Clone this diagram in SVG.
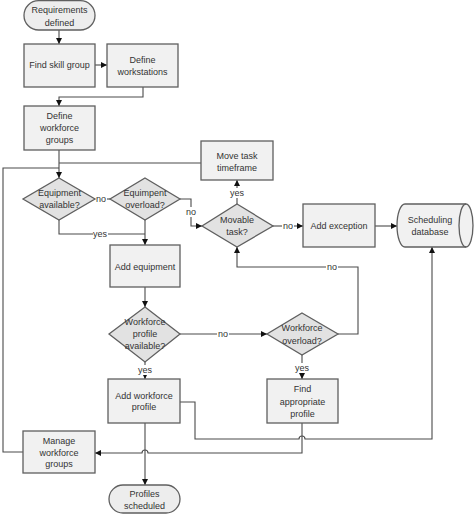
<svg xmlns="http://www.w3.org/2000/svg" width="474" height="517" viewBox="0 0 474 517">
<style>
.box{fill:#f1f1f1;stroke:#5f5f5f;stroke-width:1.3}
.dia{fill:#e2e2e2;stroke:#5f5f5f;stroke-width:1.3}
.pill{fill:#ededed;stroke:#5f5f5f;stroke-width:1.3}
text{font-family:"Liberation Sans",Arial,sans-serif;font-size:9px;fill:#333;text-anchor:middle}
.ln{fill:none;stroke:#4a4a4a;stroke-width:1.1}
.lb{fill:#fff}
</style>
<defs>
<marker id="ar" viewBox="0 0 10 10" refX="10" refY="5" markerWidth="6" markerHeight="6" orient="auto" markerUnits="userSpaceOnUse">
<path d="M0,0 L10,5 L0,10 Z" fill="#111"/>
</marker>
</defs>
<rect width="474" height="517" fill="#fff"/>
<g id="connectors">
<path class="ln" d="M59,30 V44" marker-end="url(#ar)"/>
<path class="ln" d="M95,65 H107" marker-end="url(#ar)"/>
<path class="ln" d="M143,87 V97 H59 V106" marker-end="url(#ar)"/>
<path class="ln" d="M59,150 V178" marker-end="url(#ar)"/>
<path class="ln" d="M201,163 H59"/>
<path class="ln" d="M23,452 H3 V168 H59"/>
<path class="ln" d="M95,199 H110"/>
<path class="ln" d="M59,220 V234 H145"/>
<path class="ln" d="M145,220 V245" marker-end="url(#ar)"/>
<path class="ln" d="M180,199 H191 V226 H202" marker-end="url(#ar)"/>
<path class="ln" d="M237,204 V180" marker-end="url(#ar)"/>
<path class="ln" d="M273,226 H303" marker-end="url(#ar)"/>
<path class="ln" d="M375,226 H397" marker-end="url(#ar)"/>
<path class="ln" d="M145,287 V307" marker-end="url(#ar)"/>
<path class="ln" d="M180,334 H267" marker-end="url(#ar)"/>
<path class="ln" d="M338,334 H358 V267 H237 V247" marker-end="url(#ar)"/>
<path class="ln" d="M302,355 V379" marker-end="url(#ar)"/>
<path class="ln" d="M145,362 V379" marker-end="url(#ar)"/>
<path class="ln" d="M180,402 H195 V439 H299 A3,3 0 0 1 305,439 H432 V247" marker-end="url(#ar)"/>
<path class="ln" d="M302,423 V453 H148 A3,3 0 0 0 142,453 H95" marker-end="url(#ar)"/>
<path class="ln" d="M145,423 V485" marker-end="url(#ar)"/>
<rect class="lb" x="95" y="194" width="12" height="10"/><text x="101" y="202">no</text>
<rect class="lb" x="93" y="229" width="15" height="10"/><text x="100" y="237">yes</text>
<rect class="lb" x="185" y="207" width="12" height="10"/><text x="191" y="215">no</text>
<rect class="lb" x="230" y="188" width="15" height="10"/><text x="237" y="196">yes</text>
<rect class="lb" x="282" y="221" width="12" height="10"/><text x="288" y="229">no</text>
<rect class="lb" x="326" y="262" width="12" height="10"/><text x="332" y="270">no</text>
<rect class="lb" x="217" y="329" width="12" height="10"/><text x="223" y="337">no</text>
<rect class="lb" x="138" y="365" width="15" height="10"/><text x="145" y="373">yes</text>
<rect class="lb" x="295" y="363" width="15" height="10"/><text x="302" y="371">yes</text>
</g>
<g id="n-req"><rect class="pill" x="24" y="0.7" width="71" height="29.3" rx="14.6"/><text x="59.5" y="13">Requirements</text><text x="59.5" y="26">defined</text></g>
<g id="n-skill"><rect class="box" x="24" y="44" width="71" height="43"/><text x="59.5" y="68">Find skill group</text></g>
<g id="n-ws"><rect class="box" x="107" y="44" width="71" height="43"/><text x="142.5" y="63">Define</text><text x="142.5" y="75">workstations</text></g>
<g id="n-wfg"><rect class="box" x="24" y="106" width="71" height="44"/><text x="59.5" y="119">Define</text><text x="59.5" y="131">workforce</text><text x="59.5" y="143">groups</text></g>
<g id="n-move"><rect class="box" x="201" y="141" width="72" height="39"/><text x="237" y="159">Move task</text><text x="237" y="171">timeframe</text></g>
<g id="n-eqa"><path class="dia" d="M59,178 L95,199 L59,220 L23,199 Z"/><text x="59.5" y="196">Equipment</text><text x="59.5" y="208">available?</text></g>
<g id="n-eqo"><path class="dia" d="M145,178 L180,199 L145,220 L110,199 Z"/><text x="145" y="196">Equimpent</text><text x="145" y="208">overload?</text></g>
<g id="n-movable"><path class="dia" d="M237,204 L273,226 L237,247 L202,226 Z"/><text x="237" y="223">Movable</text><text x="237" y="235">task?</text></g>
<g id="n-exc"><rect class="box" x="303" y="204" width="72" height="43"/><text x="339" y="229">Add exception</text></g>
<g id="n-db"><path class="box" d="M405,204 H466 A7,21.5 0 0 1 466,247 H405 A8,21.5 0 0 1 405,204 Z"/><path class="ln" style="stroke:#5f5f5f;stroke-width:1.3" d="M466,204 A7,21.5 0 0 0 466,247"/><text x="430" y="223">Scheduling</text><text x="430" y="235">database</text></g>
<g id="n-addeq"><rect class="box" x="110" y="245" width="70" height="42"/><text x="145" y="270">Add equipment</text></g>
<g id="n-wpa"><path class="dia" d="M145,307 L180,334 L145,362 L109,334 Z"/><text x="145" y="325">Workforce</text><text x="145" y="337">profile</text><text x="145" y="349">available?</text></g>
<g id="n-wo"><path class="dia" d="M302,313 L338,334 L302,355 L267,334 Z"/><text x="302" y="331">Workforce</text><text x="302" y="344">overload?</text></g>
<g id="n-awp"><rect class="box" x="108" y="379" width="72" height="44"/><text x="144" y="399">Add workforce</text><text x="144" y="410">profile</text></g>
<g id="n-fap"><rect class="box" x="267" y="379" width="71" height="44"/><text x="302.5" y="392">Find</text><text x="302.5" y="405">appropriate</text><text x="302.5" y="417">profile</text></g>
<g id="n-mwg"><rect class="box" x="23" y="431" width="72" height="42"/><text x="59" y="444">Manage</text><text x="59" y="456">workforce</text><text x="59" y="467">groups</text></g>
<g id="n-ps"><rect class="pill" x="109" y="485" width="71" height="28" rx="14"/><text x="144.5" y="497">Profiles</text><text x="144.5" y="509">scheduled</text></g>
</svg>
